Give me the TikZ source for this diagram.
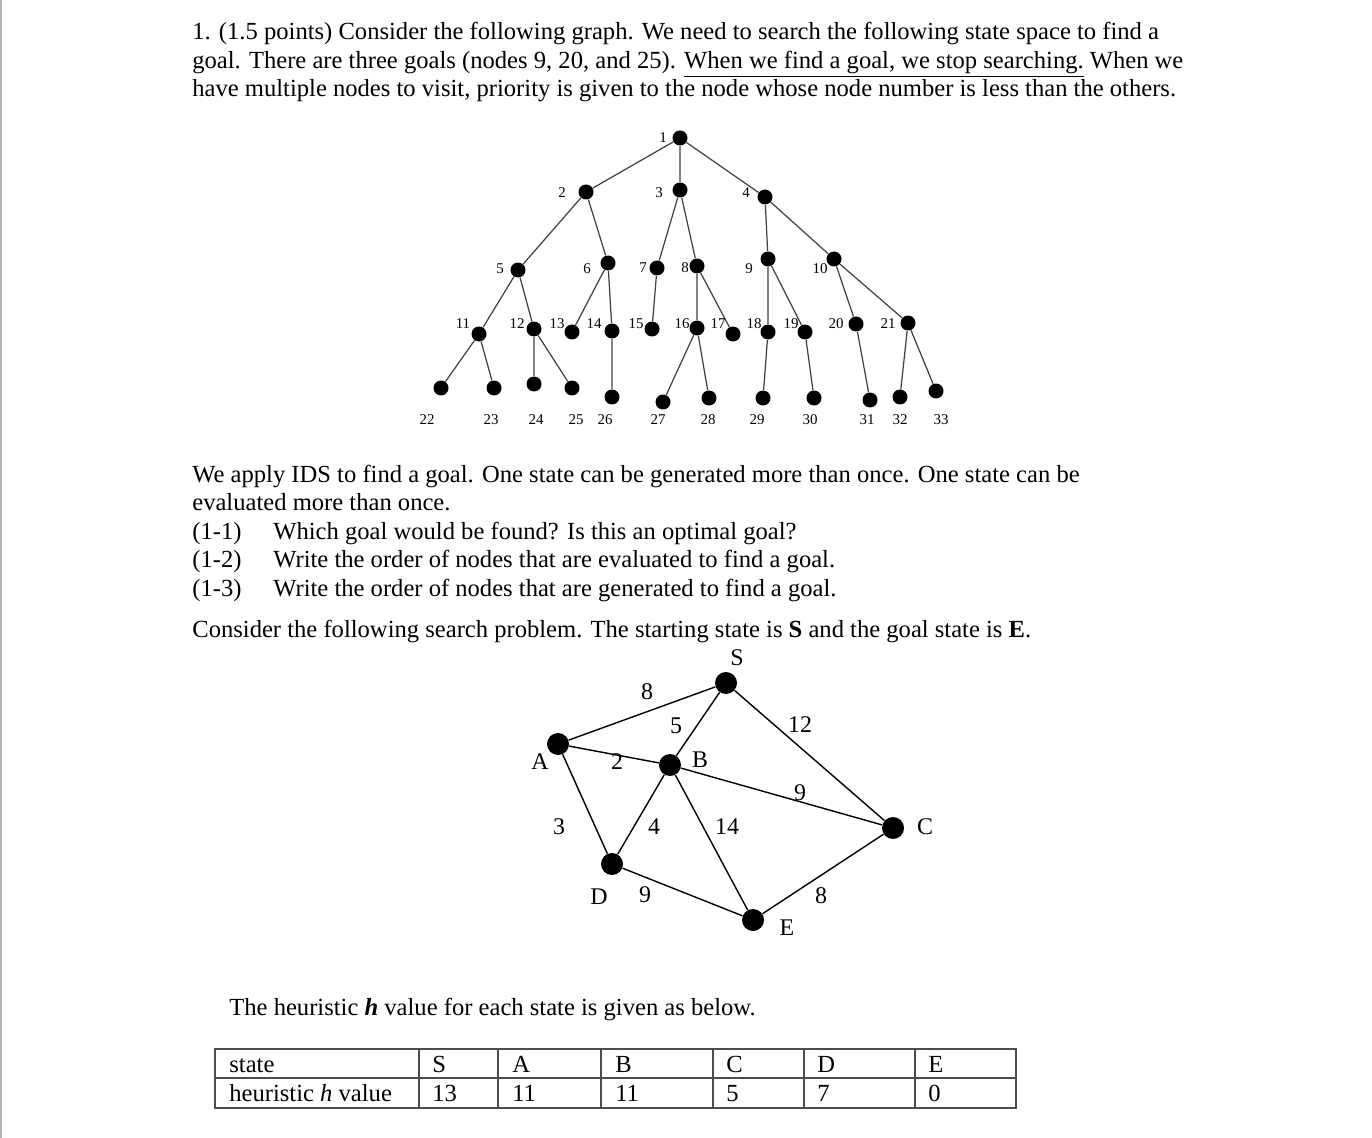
\documentclass[tikz,border=0pt]{standalone}
\usepackage{fontspec}
\setmainfont{Liberation Serif}
\begin{document}
\begin{tikzpicture}[x=0.02cm,y=-0.02cm,
  every node/.style={font=\fontsize{13.6}{16}\selectfont},
  txt/.style={anchor=base west,inner sep=0pt,font=\fontsize{14}{16}\selectfont},
  dot/.style={circle,fill,inner sep=0pt,minimum size=0.3cm},
  bigdot/.style={circle,fill,inner sep=0pt,minimum size=0.44cm},
  lab/.style={font=\fontsize{8.5}{10}\selectfont,inner sep=0pt},
  tedge/.style={black!75,line width=0.7pt},
  gedge/.style={line width=0.8pt}]
\useasboundingbox (0,0) rectangle (1372,1138);
\draw[gray!60,line width=1.2pt] (1,0)--(1,1138);
% question text
\node[txt] (q1) at (192,40) {1. (1.5 points) Consider the following graph. We need to search the following state space to find a};
\node[txt] (q2) at (192,69) {goal. There are three goals (nodes 9, 20, and 25). \underline{When we find a goal, we stop searching.} When we};
\node[txt] (q3) at (192,97) {have multiple nodes to visit, priority is given to the node whose node number is less than the others.};
% tree, level 1-2
\node[dot] (n1) at (680,138) {}; \node[dot] (n2) at (586,192) {}; \node[dot] (n3) at (680,190) {}; \node[dot] (n4) at (765,197) {};
% level 3
\node[dot] (n5) at (518,270) {}; \node[dot] (n6) at (608,263) {}; \node[dot] (n7) at (657,268) {};
\node[dot] (n8) at (697,266) {}; \node[dot] (n9) at (768,259) {}; \node[dot] (n10) at (834,259) {};
% level 4
\node[dot] (n11) at (479,334) {}; \node[dot] (n12) at (534,329) {}; \node[dot] (n13) at (572,332) {};
\node[dot] (n14) at (612,331) {}; \node[dot] (n15) at (652,329) {}; \node[dot] (n16) at (697,328) {};
\node[dot] (n17) at (733,334) {}; \node[dot] (n18) at (768,332) {}; \node[dot] (n19) at (805,332) {};
\node[dot] (n20) at (856,324) {}; \node[dot] (n21) at (908,323) {};
% level 5
\node[dot] (n22) at (441,388) {}; \node[dot] (n23) at (494,388) {}; \node[dot] (n24) at (534,384) {};
\node[dot] (n25) at (572,388) {}; \node[dot] (n26) at (612,397) {}; \node[dot] (n27) at (663,402) {};
\node[dot] (n28) at (709,398) {}; \node[dot] (n29) at (763,398) {}; \node[dot] (n30) at (814,398) {};
\node[dot] (n31) at (870,400) {}; \node[dot] (n32) at (900,397) {}; \node[dot] (n33) at (936,391) {};
\draw[tedge] (n1)--(n2) (n1)--(n3) (n1)--(n4) (n2)--(n5) (n2)--(n6) (n3)--(n7) (n3)--(n8) (n4)--(n9) (n4)--(n10);
\draw[tedge] (n5)--(n11) (n5)--(n12) (n6)--(n13) (n6)--(n14) (n7)--(n15) (n8)--(n16) (n8)--(n17)
  (n9)--(n18) (n9)--(n19) (n10)--(n20) (n10)--(n21);
\draw[tedge] (n11)--(n22) (n11)--(n23) (n12)--(n24) (n12)--(n25) (n14)--(n26) (n16)--(n27) (n16)--(n28)
  (n18)--(n29) (n19)--(n30) (n20)--(n31) (n21)--(n32) (n21)--(n33);
% tree labels
\node[lab] (l1) at (663,138) {1}; \node[lab] (l2) at (562,193) {2}; \node[lab] (l3) at (659,193) {3}; \node[lab] (l4) at (746,193) {4};
\node[lab] (l5) at (500,269) {5}; \node[lab] (l6) at (587,269) {6}; \node[lab] (l7) at (643,268) {7}; \node[lab] (l8) at (685,268) {8};
\node[lab] (l9) at (749,269) {9}; \node[lab] (l10) at (820,269) {10};
\node[lab] (l11) at (463,324) {11}; \node[lab] (l12) at (517,324) {12}; \node[lab] (l13) at (557,324) {13}; \node[lab] (l14) at (594,324) {14};
\node[lab] (l15) at (636,324) {15}; \node[lab] (l16) at (682,324) {16}; \node[lab] (l17) at (718,324) {17}; \node[lab] (l18) at (754,324) {18};
\node[lab] (l19) at (791,324) {19}; \node[lab] (l20) at (836,324) {20}; \node[lab] (l21) at (888,324) {21};
\node[lab] (l22) at (427,420) {22}; \node[lab] (l23) at (491,420) {23}; \node[lab] (l24) at (536,420) {24}; \node[lab] (l25) at (576,420) {25};
\node[lab] (l26) at (605,420) {26}; \node[lab] (l27) at (658,420) {27}; \node[lab] (l28) at (708,420) {28}; \node[lab] (l29) at (757,420) {29};
\node[lab] (l30) at (810,420) {30}; \node[lab] (l31) at (867,420) {31}; \node[lab] (l32) at (900,420) {32}; \node[lab] (l33) at (941,420) {33};
% IDS part
\node[txt] (p1) at (192,482) {We apply IDS to find a goal. One state can be generated more than once. One state can be};
\node[txt] (p2) at (192,510) {evaluated more than once.};
\node[txt] (k1) at (192,539) {(1-1)}; \node[txt] (s1) at (273,539) {Which goal would be found? Is this an optimal goal?};
\node[txt] (k2) at (192,567) {(1-2)}; \node[txt] (s2) at (273,567) {Write the order of nodes that are evaluated to find a goal.};
\node[txt] (k3) at (192,596) {(1-3)}; \node[txt] (s3) at (273,596) {Write the order of nodes that are generated to find a goal.};
\node[txt] (p3) at (192,637) {Consider the following search problem. The starting state is \textbf{S} and the goal state is \textbf{E}.};
% search graph
\node[bigdot] (S) at (726,683) {}; \node[bigdot] (A) at (558,744) {}; \node[bigdot] (B) at (670,765) {};
\node[bigdot] (C) at (893,828) {}; \node[bigdot] (D) at (612,864) {}; \node[bigdot] (E) at (753,920) {};
\draw[gedge] (S)--(A) (S)--(B) (S)--(C) (A)--(B) (A)--(D) (B)--(D) (B)--(E) (B)--(C) (D)--(E) (C)--(E);
\node (tS) at (737,658) {S}; \node (tA) at (540,762) {A}; \node (tB) at (700,760) {B};
\node (tC) at (925,827) {C}; \node (tD) at (599,897) {D}; \node (tE) at (787,928) {E};
\node (wSA) at (647,692) {8}; \node (wSB) at (676,726) {5}; \node (wSC) at (800,725) {12}; \node (wAB) at (617,762) {2};
\node (wBC) at (800,793) {9}; \node (wAD) at (559,827) {3}; \node (wBD) at (654,827) {4}; \node (wBE) at (727,827) {14};
\node (wDE) at (645,895) {9}; \node (wCE) at (821,896) {8};
% heuristic table
\node[txt] (p4) at (229,1015) {The heuristic \textbf{\textit{h}} value for each state is given as below.};
\draw[black!70,line width=0.6pt] (215,1049) rectangle (1016,1108) (215,1078)--(1016,1078);
\draw[black!70,line width=0.6pt] (419,1049)--(419,1108) (498,1049)--(498,1108) (601,1049)--(601,1108)
  (713,1049)--(713,1108) (804,1049)--(804,1108) (915,1049)--(915,1108);
\node[txt] (h0) at (229,1072) {state}; \node[txt] (h1) at (432,1072) {S}; \node[txt] (h2) at (512,1072) {A};
\node[txt] (h3) at (615,1072) {B}; \node[txt] (h4) at (726,1072) {C}; \node[txt] (h5) at (817,1072) {D}; \node[txt] (h6) at (928,1072) {E};
\node[txt] (v0) at (229,1101) {heuristic \textit{h} value}; \node[txt] (v1) at (432,1101) {13}; \node[txt] (v2) at (512,1101) {11};
\node[txt] (v3) at (615,1101) {11}; \node[txt] (v4) at (726,1101) {5}; \node[txt] (v5) at (817,1101) {7}; \node[txt] (v6) at (928,1101) {0};
\end{tikzpicture}
\end{document}
